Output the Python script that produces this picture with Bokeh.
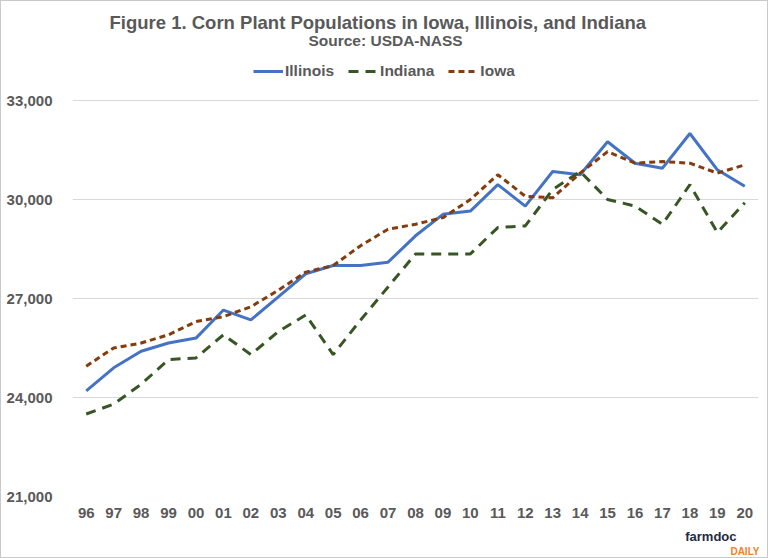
from bokeh.plotting import figure
from bokeh.models import (Range1d, FixedTicker, NumeralTickFormatter, Legend, LegendItem, Label, Title)
from bokeh.embed import file_html
from bokeh.resources import INLINE

years = ["96", "97", "98", "99", "00", "01", "02", "03", "04", "05", "06", "07", "08",
         "09", "10", "11", "12", "13", "14", "15", "16", "17", "18", "19", "20"]
illinois = [24200, 24900, 25400, 25650, 25800, 26650, 26350, 27050, 27750, 28000, 28000, 28100, 28900,
            29550, 29650, 30450, 29800, 30850, 30750, 31750, 31100, 30950, 32000, 30900, 30400]
indiana = [23500, 23800, 24400, 25150, 25200, 25900, 25300, 26000, 26500, 25300, 26350, 27350, 28350,
           28350, 28350, 29150, 29200, 30300, 30850, 30000, 29800, 29250, 30450, 29000, 29900]
iowa = [24950, 25500, 25650, 25900, 26300, 26450, 26750, 27250, 27800, 28000, 28600, 29100, 29250,
        29450, 30000, 30750, 30100, 30050, 30800, 31450, 31100, 31150, 31100, 30800, 31050]
y_ticks = [21000, 24000, 27000, 30000, 33000]

title_text = "Figure 1.  Corn Plant Populations  in Iowa, Illinois,  and Indiana"
subtitle_text = "Source: USDA-NASS"

FONT = "Liberation Sans"
GREY = "#595959"

p = figure(width=768, height=558, x_range=years, y_range=Range1d(21000, 36000),
           output_backend="svg", toolbar_location=None,
           min_border_left=71, min_border_right=11, min_border_top=0, min_border_bottom=63)
p.outline_line_color = None
p.background_fill_color = "white"
p.border_fill_color = "white"
p.styles = {"border": "1px solid #c9c9c9", "box-sizing": "border-box"}

p.xgrid.grid_line_color = None
p.ygrid.grid_line_color = "#d9d9d9"
p.ygrid.grid_line_width = 1

p.yaxis.ticker = FixedTicker(ticks=y_ticks)
p.yaxis.formatter = NumeralTickFormatter(format="0,0")
for ax in (p.xaxis[0], p.yaxis[0]):
    ax.axis_line_color = None
    ax.major_tick_line_color = None
    ax.minor_tick_line_color = None
    ax.major_label_text_font = FONT
    ax.major_label_text_font_style = "bold"
    ax.major_label_text_font_size = "15px"
    ax.major_label_text_color = GREY
p.yaxis.major_label_standoff = 14
p.xaxis.major_label_standoff = 5

r_il = p.line(years, illinois, line_color="#4472C4", line_width=3)
r_in = p.line(years, indiana, line_color="#375623", line_width=3, line_dash="10 7")
r_io = p.line(years, iowa, line_color="#843C0C", line_width=3, line_dash="6 4")

legend = Legend(items=[LegendItem(label="Illinois", renderers=[r_il]),
                       LegendItem(label="Indiana", renderers=[r_in]),
                       LegendItem(label="Iowa", renderers=[r_io])],
                orientation="horizontal", location=(181, 416),
                glyph_width=30, glyph_height=18, label_standoff=2, spacing=14,
                padding=0, margin=0, border_line_color=None, background_fill_alpha=0,
                label_text_font=FONT, label_text_font_style="bold",
                label_text_font_size="15.5px", label_text_color=GREY,
                label_height=18)
p.add_layout(legend, "center")

p.add_layout(Label(x=313, y=474, x_units="screen", y_units="screen", text=title_text,
                   text_align="center", text_baseline="middle", text_font=FONT,
                   text_font_style="bold", text_font_size="18.5px", text_color=GREY))
p.add_layout(Label(x=313, y=456, x_units="screen", y_units="screen", text=subtitle_text,
                   text_align="center", text_baseline="middle", text_font=FONT,
                   text_font_style="bold", text_font_size="15.5px", text_color=GREY))

logo1 = Title(text="farmdoc", align="right", offset=22, standoff=12, text_font=FONT,
              text_font_style="bold", text_font_size="13px", text_color="#1f2a44")
logo2 = Title(text="DAILY", align="right", offset=-1, standoff=-15, text_font=FONT,
              text_font_style="bold", text_font_size="10px", text_color="#f58025")
p.add_layout(logo1, "below")
p.add_layout(logo2, "below")

open("out.html", "w").write(file_html(p, INLINE))
